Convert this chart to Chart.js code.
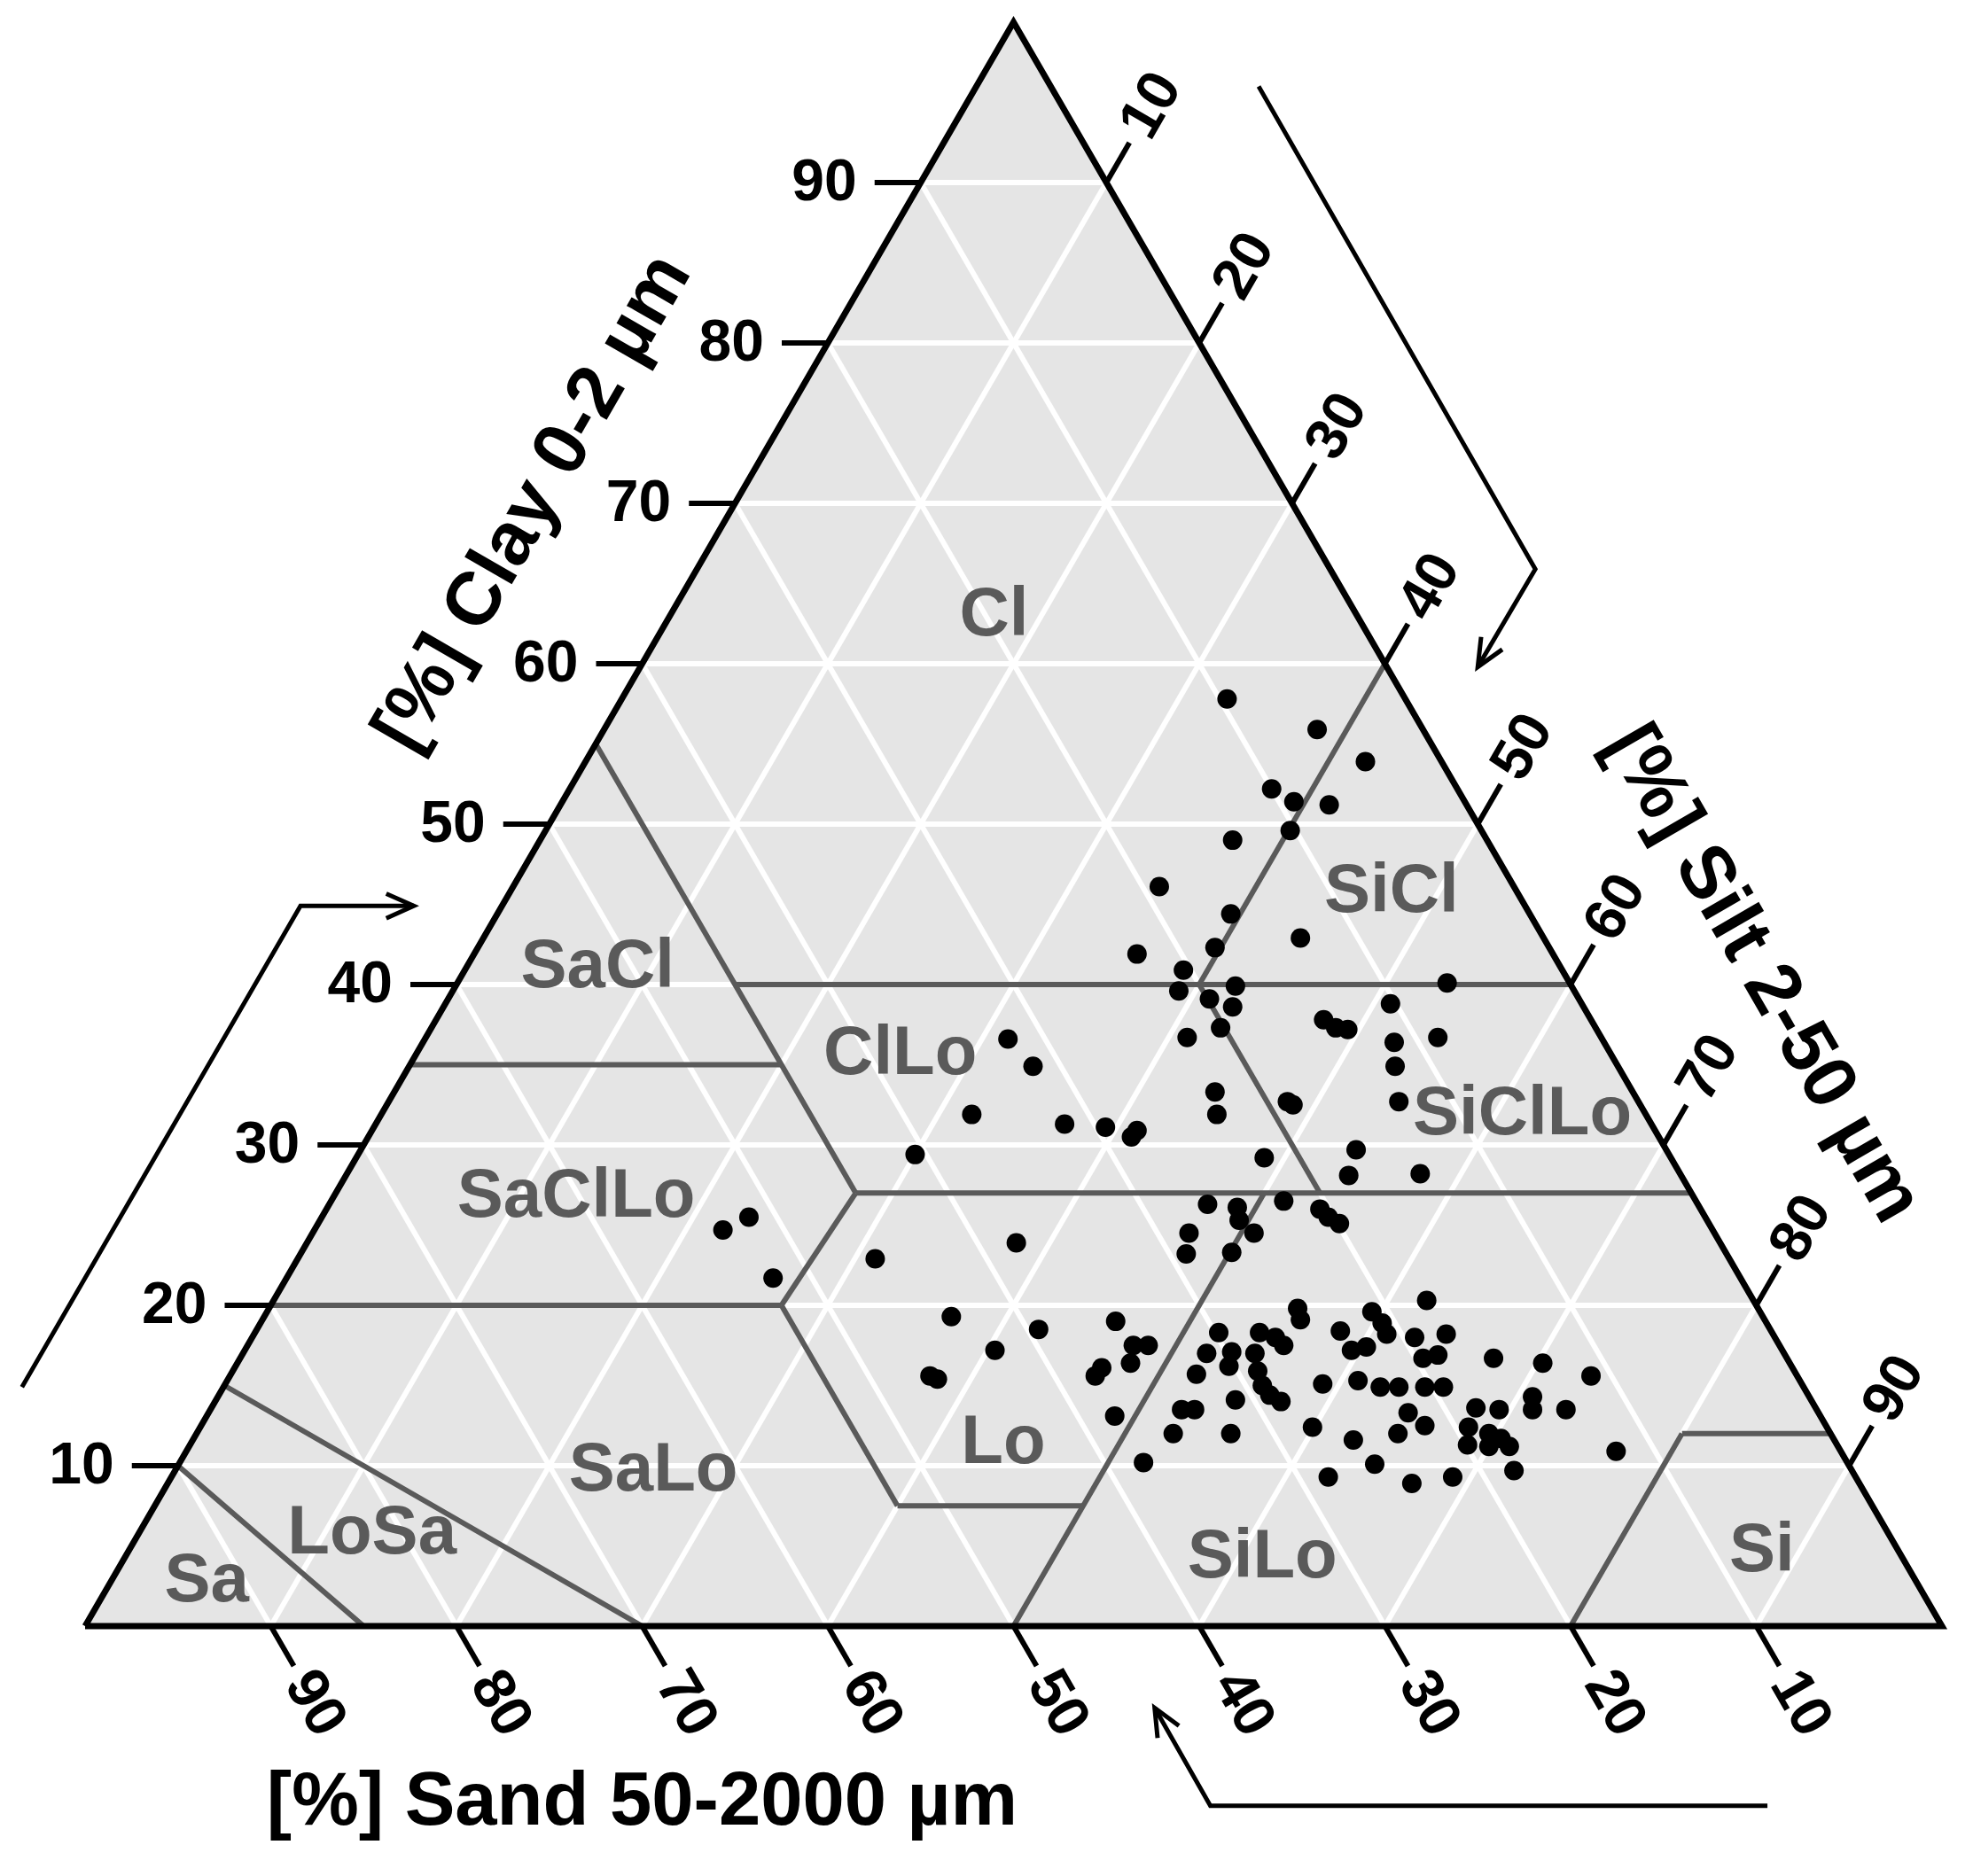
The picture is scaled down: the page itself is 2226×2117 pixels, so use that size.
<!DOCTYPE html>
<html><head><meta charset="utf-8">
<script src="https://cdn.jsdelivr.net/npm/chart.js@4.4.1/dist/chart.umd.min.js"></script>
<style>html,body{margin:0;padding:0;background:#fff}canvas{display:block}</style>
</head><body>
<canvas id="c" width="2226" height="2117"></canvas>
<script>
// ---------- data ----------
const clayTicks = [10,20,30,40,50,60,70,80,90];
const siltTicks = [10,20,30,40,50,60,70,80,90];
const sandTicks = [10,20,30,40,50,60,70,80,90];
const gridLevels = [10,20,30,40,50,60,70,80,90];

// sample points: clay % and silt % (sand = 100 - clay - silt)
const pointClay = [46.1,41.9,36.6,57.8,55.9,53.9,52.2,51.4,51.2,49.6,
49.0,44.4,42.9,42.3,40.9,39.6,39.9,39.1,38.6,40.1,
38.8,37.3,36.7,37.8,37.3,37.2,36.7,36.4,34.9,31.9,
31.3,31.1,30.5,30.9,29.4,25.5,24.7,22.9,23.9,21.7,
34.9,33.3,31.9,32.7,32.5,32.7,29.7,29.2,28.1,28.2,
26.3,26.1,25.3,26.5,24.5,24.5,23.2,23.3,26.0,25.5,
25.1,19.3,18.5,17.2,15.6,15.4,19.0,17.5,17.5,16.4,
15.6,16.1,13.1,10.2,12.0,12.0,14.1,13.5,13.5,15.7,
18.3,17.0,17.1,16.2,17.0,18.3,18.0,17.5,15.9,15.0,
14.4,14.0,19.8,19.1,18.4,17.2,17.4,19.6,18.9,18.2,
20.3,18.0,18.2,16.7,16.9,16.7,16.4,15.6,15.1,15.3,
14.9,14.9,14.9,14.9,12.4,11.6,13.3,12.5,12.0,10.1,
9.3,8.9,9.3,13.6,13.5,14.3,13.5,13.5,12.4,11.3,
12.0,11.7,11.2,11.2,9.7,10.9];
const pointSilt = [34.8,35.7,31.4,32.6,38.4,42.0,37.8,39.4,41.4,40.1,
37.3,39.5,44.0,39.7,38.7,39.1,42.0,41.0,42.5,53.3,
50.9,42.5,41.0,47.8,48.7,49.4,54.5,52.3,33.6,31.8,
37.1,39.4,41.1,41.2,30.0,23.0,22.0,31.1,38.2,26.2,
53.1,44.2,45.0,48.4,48.8,54.4,53.6,48.9,54.0,57.8,
47.3,49.0,49.5,51.3,50.7,47.2,47.7,50.1,53.5,54.2,
55.0,37.0,42.1,40.4,37.7,38.2,46.0,47.7,48.5,48.1,
46.6,46.7,48.9,51.9,52.6,55.7,54.9,52.3,53.0,52.0,
51.9,51.9,53.2,53.5,54.5,54.1,55.1,55.8,55.2,55.9,
56.6,57.4,55.4,55.9,58.4,59.6,60.3,59.5,60.4,61.0,
62.1,62.6,64.2,63.7,64.4,67.5,70.3,73.3,59.1,60.9,
62.3,63.3,64.7,65.7,59.9,62.5,64.6,65.9,64.7,64.4,
62.3,67.0,69.0,68.1,69.4,70.8,71.2,73.0,68.3,68.8,
69.6,70.4,71.1,70.0,72.1,77.0];

// texture class boundaries, each segment as [clay, silt] end points
const boundaryClayA = [55,40,35,27,27,20, 20, 7.5, 0,40,40, 0,12,15,10];
const boundarySiltA = [ 0,15, 0,28,28, 0,27.5,40,50,40,40,80,80, 0, 0];
const boundaryClayB = [27,40,35,27,20,20, 7.5, 7.5,27,27,60,12,12, 0, 0];
const boundarySiltB = [28,60,20,73,27.5,27.5,40,50,50,53,40,80,88,30,15];

const classNames = ['Cl','SiCl','SaCl','ClLo','SiClLo','SaClLo','Lo','SaLo','SiLo','Si','LoSa','Sa'];

// ---------- layout (positions in ternary coordinates) ----------
const labelClay = [63.1,45.9,41.2,35.8,32.0,26.9,11.5,9.8,4.4,4.8,5.9,2.9];
const labelSilt = [17.4,47.4, 7.0,26.0,61.4,13.0,43.7,25.7,61.2,87.9,12.5,5.1];

const FONT = '"Liberation Sans", Arial, sans-serif';
const TICK = 52;

function toXY(clay, silt){ return {x: silt + clay/2, y: clay}; }

const datasets = [];
datasets.push({
  data: pointClay.map((c,i)=>toXY(c, pointSilt[i])),
  pointRadius: 11, pointBackgroundColor:'#000', pointBorderWidth:0,
  pointStyle:'circle', showLine:false, order:0
});
datasets.push({
  data:[toXY(0,0),toXY(100,0),toXY(0,100),toXY(0,0)],
  showLine:true, pointRadius:0, borderColor:'#000', borderWidth:7,
  borderJoinStyle:'miter', fill:false, clip:false, order:1
});
for(let i=0;i<boundaryClayA.length;i++){
  datasets.push({
    data:[toXY(boundaryClayA[i],boundarySiltA[i]),toXY(boundaryClayB[i],boundarySiltB[i])],
    showLine:true, pointRadius:0, borderColor:'#5a5a5a', borderWidth:6, fill:false, order:2
  });
}
for(const k of gridLevels){
  datasets.push({data:[toXY(k,0),toXY(k,100-k)],showLine:true,pointRadius:0,borderColor:'#fff',borderWidth:6,fill:false,order:3});
  datasets.push({data:[toXY(0,k),toXY(100-k,k)],showLine:true,pointRadius:0,borderColor:'#fff',borderWidth:6,fill:false,order:3});
  datasets.push({data:[toXY(0,100-k),toXY(100-k,0)],showLine:true,pointRadius:0,borderColor:'#fff',borderWidth:6,fill:false,order:3});
}
datasets.push({
  data:[toXY(0,0),toXY(100,0),toXY(0,100)],
  showLine:true, pointRadius:0, borderWidth:0, borderColor:'rgba(0,0,0,0)',
  backgroundColor:'#e5e5e5', fill:'origin', order:4
});

function arrow(ctx, pts){
  ctx.beginPath();
  ctx.moveTo(pts[0][0],pts[0][1]);
  for(let i=1;i<pts.length;i++) ctx.lineTo(pts[i][0],pts[i][1]);
  ctx.stroke();
  const a=pts[pts.length-2], b=pts[pts.length-1];
  const ang=Math.atan2(b[1]-a[1], b[0]-a[0]);
  const L=34, s=0.42;
  ctx.beginPath();
  ctx.moveTo(b[0]-L*Math.cos(ang-s), b[1]-L*Math.sin(ang-s));
  ctx.lineTo(b[0],b[1]);
  ctx.lineTo(b[0]-L*Math.cos(ang+s), b[1]-L*Math.sin(ang+s));
  ctx.stroke();
}

const decor = {
  id:'decor',
  afterDatasetsDraw(chart){
    const ctx=chart.ctx, sx=chart.scales.x, sy=chart.scales.y;
    const px=(clay,silt)=>{const p=toXY(clay,silt);return [sx.getPixelForValue(p.x), sy.getPixelForValue(p.y)];};
    const dp=(x,y)=>[sx.getPixelForValue(x), sy.getPixelForValue(y)];
    ctx.save();
    ctx.strokeStyle='#000'; ctx.fillStyle='#000'; ctx.lineWidth=6; ctx.lineCap='butt';
    ctx.font='bold 66px '+FONT;
    for(const k of clayTicks){
      const [x,y]=px(k,0);
      ctx.beginPath(); ctx.moveTo(x,y); ctx.lineTo(x-TICK,y); ctx.stroke();
      ctx.textAlign='right'; ctx.textBaseline='middle';
      ctx.fillText(String(k), x-TICK-20, y+2);
    }
    for(const k of siltTicks){
      const [x,y]=px(100-k,k);
      const dx=0.5, dy=-0.866;
      const ex=x+dx*TICK, ey=y+dy*TICK;
      ctx.beginPath(); ctx.moveTo(x,y); ctx.lineTo(ex,ey); ctx.stroke();
      ctx.save(); ctx.translate(ex+dx*12, ey+dy*12); ctx.rotate(-Math.PI/3);
      ctx.textAlign='left'; ctx.textBaseline='middle'; ctx.fillText(String(k),0,2); ctx.restore();
    }
    for(const k of sandTicks){
      const [x,y]=px(0,100-k);
      const dx=0.5, dy=0.866;
      const ex=x+dx*TICK, ey=y+dy*TICK;
      ctx.beginPath(); ctx.moveTo(x,y); ctx.lineTo(ex,ey); ctx.stroke();
      ctx.save(); ctx.translate(ex+dx*12, ey+dy*12); ctx.rotate(Math.PI/3);
      ctx.textAlign='left'; ctx.textBaseline='middle'; ctx.fillText(String(k),0,2); ctx.restore();
    }
    ctx.fillStyle='#5a5a5a'; ctx.font='bold 78px '+FONT;
    ctx.textAlign='center'; ctx.textBaseline='middle';
    classNames.forEach((n,i)=>{const [x,y]=px(labelClay[i],labelSilt[i]); ctx.fillText(n,x,y+3);});
    ctx.fillStyle='#000'; ctx.font='bold 85px '+FONT;
    let [tx,ty]=dp(24.2,70.0);
    ctx.save(); ctx.translate(tx,ty); ctx.rotate(-Math.PI/3); ctx.fillText('[%] Clay 0-2 µm',0,0); ctx.restore();
    [tx,ty]=dp(90.3,40.6);
    ctx.save(); ctx.translate(tx,ty); ctx.rotate(Math.PI/3); ctx.fillText('[%] Silt 2-50 µm',0,0); ctx.restore();
    [tx,ty]=dp(30.0,-11.1);
    ctx.fillText('[%] Sand 50-2000 µm',tx,ty);
    ctx.lineWidth=5; ctx.lineJoin='miter';
    arrow(ctx,[dp(-3.4,14.9),dp(11.6,44.9),dp(17.7,44.9)]);
    arrow(ctx,[dp(63.2,96.0),dp(78.1,65.9),dp(75.0,59.8)]);
    arrow(ctx,[dp(90.6,-11.2),dp(60.6,-11.2),dp(57.6,-5.1)]);
    ctx.restore();
  }
};

new Chart(document.getElementById('c'), {
  type:'scatter',
  data:{datasets},
  options:{
    responsive:false, animation:false, devicePixelRatio:1, events:[],
    layout:{padding:{left:96,right:35,top:25,bottom:282}},
    scales:{
      x:{type:'linear',min:0,max:100,display:false},
      y:{type:'linear',min:0,max:100,display:false}
    },
    plugins:{legend:{display:false},tooltip:{enabled:false}}
  },
  plugins:[decor]
});
</script>
</body></html>
